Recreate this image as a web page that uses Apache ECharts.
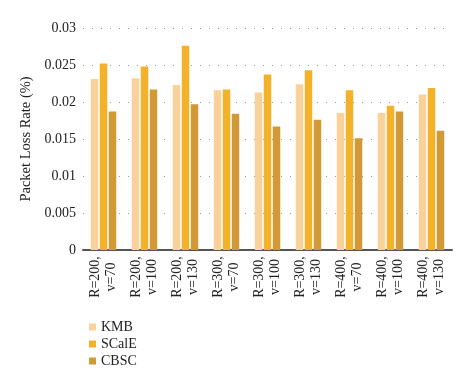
<!DOCTYPE html>
<html>
<head>
<meta charset="utf-8">
<script src="https://cdn.jsdelivr.net/npm/echarts@6/dist/echarts.min.js"></script>
<style>html,body{margin:0;padding:0;background:#fff}#c{width:474px;height:387px}</style>
</head>
<body>
<div id="c"></div>
<script>
const categories = ["R=200,\nv=70","R=200,\nv=100","R=200,\nv=130","R=300,\nv=70","R=300,\nv=100","R=300,\nv=130","R=400,\nv=70","R=400,\nv=100","R=400,\nv=130"];
const seriesNames = ["KMB","SCalE","CBSC"];
const kmb   = [0.0231,0.0232,0.0223,0.0216,0.0213,0.0224,0.0185,0.0185,0.0210];
const scale = [0.0252,0.0248,0.0276,0.0217,0.0237,0.0243,0.0216,0.0195,0.0219];
const cbsc  = [0.0187,0.0217,0.0197,0.0184,0.0167,0.0176,0.0151,0.0187,0.0161];
const yTicks = [0,0.005,0.01,0.015,0.02,0.025,0.03];
const colors = ["#F8D29A","#F4B22A","#D29A36"];
const font = "'Liberation Serif', 'DejaVu Serif', serif";

const chart = echarts.init(document.getElementById('c'));
const values = [kmb, scale, cbsc];
chart.setOption({
  animation:false,
  textStyle:{fontFamily:font},
  color:colors,
  grid:{left:83, right:22, top:28, bottom:137},
  legend:{
    orient:'vertical', left:84, top:315, itemWidth:7, itemHeight:7, itemGap:3,
    icon:'rect',
    textStyle:{fontFamily:font, fontSize:14, color:'#222'},
    data:seriesNames
  },
  xAxis:{
    type:'category', data:categories,
    axisLine:{lineStyle:{color:'#555', width:2}},
    axisTick:{show:false},
    axisLabel:{rotate:90, fontFamily:font, fontSize:14, color:'#222', lineHeight:16, margin:27, align:'center', verticalAlign:'middle'}
  },
  yAxis:{
    type:'value', min:0, max:0.03, interval:0.005,
    name:'Packet Loss Rate (%)', nameLocation:'middle', nameGap:48,
    nameTextStyle:{fontFamily:font, fontSize:14.5, color:'#222'},
    axisLine:{show:false}, axisTick:{show:false},
    axisLabel:{fontFamily:font, fontSize:14, color:'#222', margin:7,
      formatter:v=>{const t=yTicks.find(x=>Math.abs(x-v)<1e-9);return t===undefined?'':String(t);}},
    splitLine:{lineStyle:{color:'#999', type:[1,8], width:1.2}}
  },
  series: seriesNames.map((n,i)=>({
    name:n, type:'bar', data:values[i], barWidth:7.5, barGap:'20%',
    itemStyle:{color:colors[i]}
  }))
});
</script>
</body>
</html>
